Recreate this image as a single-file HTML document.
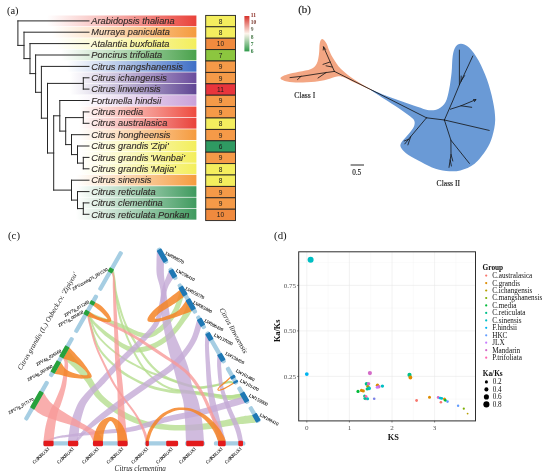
<!DOCTYPE html>
<html><head><meta charset="utf-8"><title>Figure</title>
<style>html,body{margin:0;padding:0;background:#fff;}svg{display:block;}</style></head>
<body>
<svg width="550" height="475" viewBox="0 0 550 475">
<rect width="550" height="475" fill="#ffffff"/>
<defs>
<linearGradient id="ga0" x1="0" x2="1" y1="0" y2="0"><stop offset="0" stop-color="#e9423a" stop-opacity="0"/><stop offset="0.3" stop-color="#e9423a" stop-opacity="0.27"/><stop offset="0.65" stop-color="#e9423a" stop-opacity="0.62"/><stop offset="1" stop-color="#e9423a" stop-opacity="1"/></linearGradient>
<linearGradient id="ga1" x1="0" x2="1" y1="0" y2="0"><stop offset="0" stop-color="#f59b3e" stop-opacity="0"/><stop offset="0.3" stop-color="#f59b3e" stop-opacity="0.27"/><stop offset="0.65" stop-color="#f59b3e" stop-opacity="0.62"/><stop offset="1" stop-color="#f59b3e" stop-opacity="1"/></linearGradient>
<linearGradient id="ga2" x1="0" x2="1" y1="0" y2="0"><stop offset="0" stop-color="#f3ee5c" stop-opacity="0"/><stop offset="0.3" stop-color="#f3ee5c" stop-opacity="0.27"/><stop offset="0.65" stop-color="#f3ee5c" stop-opacity="0.62"/><stop offset="1" stop-color="#f3ee5c" stop-opacity="1"/></linearGradient>
<linearGradient id="ga3" x1="0" x2="1" y1="0" y2="0"><stop offset="0" stop-color="#4aa24c" stop-opacity="0"/><stop offset="0.3" stop-color="#4aa24c" stop-opacity="0.27"/><stop offset="0.65" stop-color="#4aa24c" stop-opacity="0.62"/><stop offset="1" stop-color="#4aa24c" stop-opacity="1"/></linearGradient>
<linearGradient id="ga4" x1="0" x2="1" y1="0" y2="0"><stop offset="0" stop-color="#3f6fc6" stop-opacity="0"/><stop offset="0.3" stop-color="#3f6fc6" stop-opacity="0.27"/><stop offset="0.65" stop-color="#3f6fc6" stop-opacity="0.62"/><stop offset="1" stop-color="#3f6fc6" stop-opacity="1"/></linearGradient>
<linearGradient id="ga5" x1="0" x2="1" y1="0" y2="0"><stop offset="0" stop-color="#6a4c9c" stop-opacity="0"/><stop offset="0.3" stop-color="#6a4c9c" stop-opacity="0.27"/><stop offset="0.65" stop-color="#6a4c9c" stop-opacity="0.62"/><stop offset="1" stop-color="#6a4c9c" stop-opacity="1"/></linearGradient>
<linearGradient id="ga6" x1="0" x2="1" y1="0" y2="0"><stop offset="0" stop-color="#5f4593" stop-opacity="0"/><stop offset="0.3" stop-color="#5f4593" stop-opacity="0.27"/><stop offset="0.65" stop-color="#5f4593" stop-opacity="0.62"/><stop offset="1" stop-color="#5f4593" stop-opacity="1"/></linearGradient>
<linearGradient id="ga7" x1="0" x2="1" y1="0" y2="0"><stop offset="0" stop-color="#c9a2da" stop-opacity="0"/><stop offset="0.3" stop-color="#c9a2da" stop-opacity="0.27"/><stop offset="0.65" stop-color="#c9a2da" stop-opacity="0.62"/><stop offset="1" stop-color="#c9a2da" stop-opacity="1"/></linearGradient>
<linearGradient id="ga8" x1="0" x2="1" y1="0" y2="0"><stop offset="0" stop-color="#ee4b3f" stop-opacity="0"/><stop offset="0.3" stop-color="#ee4b3f" stop-opacity="0.27"/><stop offset="0.65" stop-color="#ee4b3f" stop-opacity="0.62"/><stop offset="1" stop-color="#ee4b3f" stop-opacity="1"/></linearGradient>
<linearGradient id="ga9" x1="0" x2="1" y1="0" y2="0"><stop offset="0" stop-color="#e9423a" stop-opacity="0"/><stop offset="0.3" stop-color="#e9423a" stop-opacity="0.27"/><stop offset="0.65" stop-color="#e9423a" stop-opacity="0.62"/><stop offset="1" stop-color="#e9423a" stop-opacity="1"/></linearGradient>
<linearGradient id="ga10" x1="0" x2="1" y1="0" y2="0"><stop offset="0" stop-color="#f59b3e" stop-opacity="0"/><stop offset="0.3" stop-color="#f59b3e" stop-opacity="0.27"/><stop offset="0.65" stop-color="#f59b3e" stop-opacity="0.62"/><stop offset="1" stop-color="#f59b3e" stop-opacity="1"/></linearGradient>
<linearGradient id="ga11" x1="0" x2="1" y1="0" y2="0"><stop offset="0" stop-color="#f3ee5c" stop-opacity="0"/><stop offset="0.3" stop-color="#f3ee5c" stop-opacity="0.27"/><stop offset="0.65" stop-color="#f3ee5c" stop-opacity="0.62"/><stop offset="1" stop-color="#f3ee5c" stop-opacity="1"/></linearGradient>
<linearGradient id="ga12" x1="0" x2="1" y1="0" y2="0"><stop offset="0" stop-color="#f3ee5c" stop-opacity="0"/><stop offset="0.3" stop-color="#f3ee5c" stop-opacity="0.27"/><stop offset="0.65" stop-color="#f3ee5c" stop-opacity="0.62"/><stop offset="1" stop-color="#f3ee5c" stop-opacity="1"/></linearGradient>
<linearGradient id="ga13" x1="0" x2="1" y1="0" y2="0"><stop offset="0" stop-color="#f3ee5c" stop-opacity="0"/><stop offset="0.3" stop-color="#f3ee5c" stop-opacity="0.27"/><stop offset="0.65" stop-color="#f3ee5c" stop-opacity="0.62"/><stop offset="1" stop-color="#f3ee5c" stop-opacity="1"/></linearGradient>
<linearGradient id="ga14" x1="0" x2="1" y1="0" y2="0"><stop offset="0" stop-color="#f59b3e" stop-opacity="0"/><stop offset="0.3" stop-color="#f59b3e" stop-opacity="0.27"/><stop offset="0.65" stop-color="#f59b3e" stop-opacity="0.62"/><stop offset="1" stop-color="#f59b3e" stop-opacity="1"/></linearGradient>
<linearGradient id="ga15" x1="0" x2="1" y1="0" y2="0"><stop offset="0" stop-color="#3f9a5e" stop-opacity="0"/><stop offset="0.3" stop-color="#3f9a5e" stop-opacity="0.27"/><stop offset="0.65" stop-color="#3f9a5e" stop-opacity="0.62"/><stop offset="1" stop-color="#3f9a5e" stop-opacity="1"/></linearGradient>
<linearGradient id="ga16" x1="0" x2="1" y1="0" y2="0"><stop offset="0" stop-color="#3f9a5e" stop-opacity="0"/><stop offset="0.3" stop-color="#3f9a5e" stop-opacity="0.27"/><stop offset="0.65" stop-color="#3f9a5e" stop-opacity="0.62"/><stop offset="1" stop-color="#3f9a5e" stop-opacity="1"/></linearGradient>
<linearGradient id="ga17" x1="0" x2="1" y1="0" y2="0"><stop offset="0" stop-color="#3f9a5e" stop-opacity="0"/><stop offset="0.3" stop-color="#3f9a5e" stop-opacity="0.27"/><stop offset="0.65" stop-color="#3f9a5e" stop-opacity="0.62"/><stop offset="1" stop-color="#3f9a5e" stop-opacity="1"/></linearGradient>
<linearGradient id="leg" x1="0" x2="0" y1="0" y2="1"><stop offset="0" stop-color="#d7302a"/><stop offset="0.5" stop-color="#fdf5ec"/><stop offset="1" stop-color="#2f9a4a"/></linearGradient>
</defs>
<rect x="47" y="15.50" width="149.4" height="10.7" fill="url(#ga0)"/>
<rect x="52" y="26.88" width="144.4" height="10.7" fill="url(#ga1)"/>
<rect x="56" y="38.26" width="140.4" height="10.7" fill="url(#ga2)"/>
<rect x="61" y="49.64" width="135.4" height="10.7" fill="url(#ga3)"/>
<rect x="67" y="61.02" width="129.4" height="10.7" fill="url(#ga4)"/>
<rect x="70" y="72.40" width="126.4" height="10.7" fill="url(#ga5)"/>
<rect x="70" y="83.78" width="126.4" height="10.7" fill="url(#ga6)"/>
<rect x="77" y="95.16" width="119.4" height="10.7" fill="url(#ga7)"/>
<rect x="79" y="106.54" width="117.4" height="10.7" fill="url(#ga8)"/>
<rect x="79" y="117.92" width="117.4" height="10.7" fill="url(#ga9)"/>
<rect x="78" y="129.30" width="118.4" height="10.7" fill="url(#ga10)"/>
<rect x="80" y="140.68" width="116.4" height="10.7" fill="url(#ga11)"/>
<rect x="80" y="152.06" width="116.4" height="10.7" fill="url(#ga12)"/>
<rect x="80" y="163.44" width="116.4" height="10.7" fill="url(#ga13)"/>
<rect x="76" y="174.82" width="120.4" height="10.7" fill="url(#ga14)"/>
<rect x="76" y="186.20" width="120.4" height="10.7" fill="url(#ga15)"/>
<rect x="76" y="197.58" width="120.4" height="10.7" fill="url(#ga16)"/>
<rect x="76" y="208.96" width="120.4" height="10.7" fill="url(#ga17)"/>
<path d="M83.3 77.8V89.1M83.3 77.8H89.0M83.3 89.1H89.0M83.3 111.9V123.3M83.3 111.9H89.0M83.3 123.3H89.0M83.3 157.4V168.8M83.3 157.4H89.0M83.3 168.8H89.0M83.3 202.9V214.3M83.3 202.9H89.0M83.3 214.3H89.0M77.5 146.0V163.1M77.5 146.0H89.0M77.5 163.1H83.3M71.5 134.7V154.6M71.5 134.7H89.0M71.5 154.6H77.5M65.7 117.6V144.6M65.7 117.6H83.3M65.7 144.6H71.5M59.8 100.5V131.1M59.8 100.5H89.0M59.8 131.1H65.7M77.5 191.6V208.6M77.5 191.6H89.0M77.5 208.6H83.3M71.5 180.2V200.1M71.5 180.2H89.0M71.5 200.1H77.5M53.7 115.8V190.1M53.7 115.8H59.8M53.7 190.1H71.5M47.5 83.4V153.0M47.5 83.4H83.3M47.5 153.0H53.7M41.4 66.4V118.2M41.4 66.4H89.0M41.4 118.2H47.5M35.6 55.0V92.3M35.6 55.0H89.0M35.6 92.3H41.4M30.0 43.6V73.6M30.0 43.6H89.0M30.0 73.6H35.6M24.0 32.2V58.6M24.0 32.2H89.0M24.0 58.6H30.0M17.9 20.9V45.4M17.9 20.9H89.0M17.9 45.4H24.0" fill="none" stroke="#262626" stroke-width="1.0" stroke-linecap="square"/>
<g font-family="'Liberation Sans',Arial,sans-serif" font-style="italic" font-size="9.25" fill="#2e2826" stroke="#2e2826" stroke-width="0.12">
<text x="91.3" y="24.05">Arabidopsis thaliana</text>
<text x="91.3" y="35.43">Murraya paniculata</text>
<text x="91.3" y="46.81">Atalantia buxfoliata</text>
<text x="91.3" y="58.19">Poncirus trifoliata</text>
<text x="91.3" y="69.57">Citrus mangshanensis</text>
<text x="91.3" y="80.95">Citrus ichangensis</text>
<text x="91.3" y="92.33">Citrus linwuensis</text>
<text x="91.3" y="103.71">Fortunella hindsii</text>
<text x="91.3" y="115.09">Citrus media</text>
<text x="91.3" y="126.47">Citrus australasica</text>
<text x="91.3" y="137.85">Citrus hongheensis</text>
<text x="91.3" y="149.23">Citrus grandis 'Zipi'</text>
<text x="91.3" y="160.61">Citrus grandis 'Wanbai'</text>
<text x="91.3" y="171.99">Citrus grandis 'Majia'</text>
<text x="91.3" y="183.37">Citrus sinensis</text>
<text x="91.3" y="194.75">Citrus reticulata</text>
<text x="91.3" y="206.13">Citrus clementina</text>
<text x="91.3" y="217.51">Citrus reticulata Ponkan</text>
</g>
<rect x="205.7" y="15.40" width="29.8" height="11.40" fill="#f4ee5e" stroke="#222" stroke-width="0.9"/>
<rect x="205.7" y="26.80" width="29.8" height="11.40" fill="#f4ee5e" stroke="#222" stroke-width="0.9"/>
<rect x="205.7" y="38.20" width="29.8" height="11.40" fill="#f08a3e" stroke="#222" stroke-width="0.9"/>
<rect x="205.7" y="49.60" width="29.8" height="11.40" fill="#8cc63f" stroke="#222" stroke-width="0.9"/>
<rect x="205.7" y="61.00" width="29.8" height="11.40" fill="#f59a48" stroke="#222" stroke-width="0.9"/>
<rect x="205.7" y="72.40" width="29.8" height="11.40" fill="#f59a48" stroke="#222" stroke-width="0.9"/>
<rect x="205.7" y="83.80" width="29.8" height="11.40" fill="#e8353c" stroke="#222" stroke-width="0.9"/>
<rect x="205.7" y="95.20" width="29.8" height="11.40" fill="#f59a48" stroke="#222" stroke-width="0.9"/>
<rect x="205.7" y="106.60" width="29.8" height="11.40" fill="#f59a48" stroke="#222" stroke-width="0.9"/>
<rect x="205.7" y="118.00" width="29.8" height="11.40" fill="#f4ee5e" stroke="#222" stroke-width="0.9"/>
<rect x="205.7" y="129.40" width="29.8" height="11.40" fill="#f59a48" stroke="#222" stroke-width="0.9"/>
<rect x="205.7" y="140.80" width="29.8" height="11.40" fill="#2f9a62" stroke="#222" stroke-width="0.9"/>
<rect x="205.7" y="152.20" width="29.8" height="11.40" fill="#f59a48" stroke="#222" stroke-width="0.9"/>
<rect x="205.7" y="163.60" width="29.8" height="11.40" fill="#f4ee5e" stroke="#222" stroke-width="0.9"/>
<rect x="205.7" y="175.00" width="29.8" height="11.40" fill="#f4ee5e" stroke="#222" stroke-width="0.9"/>
<rect x="205.7" y="186.40" width="29.8" height="11.40" fill="#f59a48" stroke="#222" stroke-width="0.9"/>
<rect x="205.7" y="197.80" width="29.8" height="11.40" fill="#f59a48" stroke="#222" stroke-width="0.9"/>
<rect x="205.7" y="209.20" width="29.8" height="11.40" fill="#f08a3e" stroke="#222" stroke-width="0.9"/>
<g font-family="'Liberation Sans',Arial,sans-serif" font-size="6.6" fill="#1a1a1a" text-anchor="middle">
<text x="220.5" y="23.50">8</text>
<text x="220.5" y="34.90">8</text>
<text x="220.5" y="46.30">10</text>
<text x="220.5" y="57.70">7</text>
<text x="220.5" y="69.10">9</text>
<text x="220.5" y="80.50">9</text>
<text x="220.5" y="91.90">11</text>
<text x="220.5" y="103.30">9</text>
<text x="220.5" y="114.70">9</text>
<text x="220.5" y="126.10">8</text>
<text x="220.5" y="137.50">9</text>
<text x="220.5" y="148.90">6</text>
<text x="220.5" y="160.30">9</text>
<text x="220.5" y="171.70">8</text>
<text x="220.5" y="183.10">8</text>
<text x="220.5" y="194.50">9</text>
<text x="220.5" y="205.90">9</text>
<text x="220.5" y="217.30">10</text>
</g>
<rect x="244.4" y="16" width="5" height="35.4" fill="url(#leg)"/>
<g font-family="'Liberation Serif',serif" font-size="5.5" fill="#555" font-weight="bold">
<text x="250.8" y="16.9" fill="#8a2a22">11</text>
<text x="250.8" y="23.9" fill="#7a3a30">10</text>
<text x="250.8" y="31.3" fill="#6a6a5a">9</text>
<text x="250.8" y="38.5" fill="#4a7a4a">8</text>
<text x="250.8" y="45.7" fill="#2f7a3a">7</text>
<text x="250.8" y="52.9" fill="#2a7a3a">6</text>
</g>
<text x="7" y="13.6" font-family="'Liberation Serif',serif" font-size="10.4" fill="#111">(a)</text>
<path d="M322.4 39.0C323.5 39.1 325.4 41.7 326.5 43.5C327.6 45.3 327.9 47.6 329.0 50.0C330.1 52.4 331.0 54.8 333.0 58.0C335.0 61.2 337.3 65.3 341.0 69.0C344.7 72.7 350.3 76.8 355.0 80.0C359.7 83.2 365.2 86.1 369.0 88.2C372.8 90.3 377.5 92.4 377.5 92.6C377.5 92.8 372.8 90.8 369.0 89.2C365.2 87.6 359.3 84.8 355.0 82.8C350.7 80.8 346.0 78.0 343.0 77.0C340.0 76.0 339.7 76.2 337.0 76.6C334.3 77.0 330.7 78.7 327.0 79.6C323.3 80.5 319.7 81.3 315.0 81.8C310.3 82.3 303.7 82.6 299.0 82.6C294.3 82.5 290.1 82.2 287.0 81.5C283.9 80.8 280.5 79.4 280.5 78.2C280.5 77.0 283.9 75.7 287.0 74.6C290.1 73.5 295.0 72.7 299.0 71.8C303.0 70.9 308.0 70.4 311.0 69.0C314.0 67.6 315.5 66.0 316.8 63.5C318.1 61.0 318.5 57.4 319.0 54.0C319.5 50.6 319.2 45.5 319.8 43.0C320.4 40.5 321.3 38.9 322.4 39.0Z" fill="#f3a683"/>
<path d="M370.0 89.3C370.0 88.7 379.1 93.0 384.2 95.0C389.3 97.0 395.2 99.0 400.7 101.0C406.2 103.0 412.6 105.3 417.3 106.8C422.0 108.3 425.4 109.9 429.0 110.2C432.6 110.5 435.8 110.2 438.6 108.8C441.4 107.4 443.8 105.4 445.6 102.1C447.4 98.8 448.2 94.0 449.2 89.1C450.2 84.2 451.0 78.1 451.6 72.6C452.2 67.1 452.0 60.3 452.7 56.0C453.4 51.7 454.2 48.8 455.6 46.8C457.0 44.8 458.7 43.6 461.0 43.7C463.3 43.9 466.4 44.9 469.3 47.7C472.2 50.5 475.8 55.4 478.7 60.7C481.6 66.0 484.6 72.9 487.0 79.6C489.4 86.3 491.5 94.2 492.9 100.9C494.3 107.6 495.3 113.9 495.2 119.8C495.1 125.7 493.8 131.5 492.3 136.5C490.8 141.5 489.3 145.0 486.4 149.6C483.4 154.2 478.9 160.3 474.6 163.8C470.3 167.3 465.1 169.2 460.4 170.4C455.7 171.6 450.9 171.4 446.2 170.9C441.5 170.4 436.7 169.2 432.0 167.4C427.3 165.6 422.1 162.7 417.8 160.3C413.5 157.9 408.8 155.4 406.0 153.2C403.2 151.0 401.6 149.1 400.8 147.3C400.1 145.5 400.2 144.5 401.5 142.3C402.8 140.1 406.4 136.9 408.4 134.3C410.4 131.8 412.7 129.2 413.7 127.0C414.7 124.8 415.0 122.8 414.4 121.0C413.8 119.2 412.7 118.5 410.0 116.3C407.3 114.1 402.7 110.9 398.4 108.0C394.1 105.1 388.7 101.9 384.0 98.8C379.3 95.7 370.0 89.9 370.0 89.3Z" fill="#6a9ad6"/>
<path d="M426.5 117.8L370.0 89.2L334.4 71.4M334.4 71.4L323.6 47.0M323.6 47.0L325.6 49.4M323.6 47.0L323.2 50.0M330.0 62.0L323.0 64.4M332.0 67.0L326.0 65.8M334.4 71.4L319.0 73.6L301.0 76.4L290.0 77.6M326.0 72.6L318.0 78.0M301.0 76.4L297.5 79.6M426.5 117.8L444.4 120.0M426.5 117.8L410.7 136.6L404.8 143.9M410.7 136.6L407.9 144.9M408.5 139.3L404.2 141.0M444.4 120.0L489.2 130.4M444.4 120.0L450.9 140.2L469.4 163.4M450.9 140.2L451.0 154.4L449.0 167.4M451.0 154.4L452.8 161.0M450.2 160.0L451.4 166.0M444.4 120.0L452.7 101.0L459.4 84.8L459.4 50.1M459.4 84.8L472.8 56.0M461.5 80.3L464.6 75.6M461.0 81.5L461.2 76.0M450.4 109.2L461.0 105.8L475.7 99.7M461.0 105.8L471.7 107.3M475.7 99.7L473.4 99.6M475.7 99.7L474.5 101.6" fill="none" stroke="#111" stroke-width="0.8" stroke-linecap="round" stroke-linejoin="round"/>
<path d="M350.6 165H364" stroke="#111" stroke-width="0.9" fill="none"/>
<g font-family="'Liberation Serif',serif" fill="#111" stroke="#111" stroke-width="0.12">
<text x="352.2" y="175.4" font-size="7.2">0.5</text>
<text x="294.3" y="97.6" font-size="7.6">Class I</text>
<text x="436.6" y="185.5" font-size="7.6">Class II</text>
<text x="298.2" y="13.4" font-size="10.8">(b)</text>
</g>
<g>
<path d="M112.1 272.7C112.3 273.9 113.0 277.2 113.4 280.1C113.7 283.0 113.5 285.6 114.1 290.1C114.7 294.6 115.8 302.1 116.8 307.2C117.8 312.3 118.8 316.6 120.0 320.9C121.3 325.1 122.9 329.0 124.4 332.7C125.8 336.3 126.8 338.8 128.6 342.8C130.4 346.8 132.5 351.9 135.1 356.5C137.7 361.1 140.8 366.5 144.2 370.6C147.6 374.8 151.2 378.2 155.4 381.3C159.6 384.5 164.8 387.7 169.6 389.5C174.4 391.3 179.5 391.4 184.3 392.2C189.2 392.9 194.0 393.4 198.8 394.1C203.7 394.8 208.5 395.5 213.4 396.2C218.3 396.9 223.5 398.0 228.2 398.1C232.9 398.2 239.4 397.0 241.7 396.8L239.9 393.8C238.0 394.0 232.6 395.2 228.2 395.1C223.9 395.0 218.6 394.0 213.8 393.4C208.9 392.8 204.0 392.1 199.2 391.5C194.3 390.9 189.5 390.5 184.7 389.8C179.9 389.1 175.1 389.2 170.4 387.5C165.7 385.8 160.7 382.7 156.6 379.7C152.5 376.7 149.1 373.4 145.8 369.4C142.5 365.3 139.4 360.1 136.9 355.5C134.3 350.9 132.2 345.9 130.4 342.0C128.6 338.1 127.6 335.5 126.2 331.9C124.8 328.3 123.2 324.5 122.0 320.3C120.7 316.1 119.6 311.9 118.6 306.8C117.6 301.7 116.5 294.4 115.9 289.9C115.3 285.4 115.5 283.0 115.0 279.9C114.6 276.7 113.4 272.4 113.1 270.9Z" fill="#b5dd8e" fill-opacity="0.8"/>
<path d="M112.8 271.5C113.0 272.9 113.3 276.2 113.7 280.1C114.2 284.1 114.0 288.7 115.5 295.2C117.0 301.8 120.1 312.6 122.6 319.3C125.0 326.1 127.3 330.3 130.0 335.5C132.8 340.7 136.0 345.9 139.0 350.6C142.0 355.3 144.7 359.8 148.1 363.8C151.5 367.7 155.7 371.7 159.3 374.5C162.8 377.2 165.4 378.3 169.5 380.1C173.7 381.9 179.3 383.7 184.2 385.1C189.1 386.5 194.0 388.1 198.9 388.4C203.9 388.7 208.9 387.6 213.8 386.6C218.7 385.7 224.9 383.3 228.3 382.9C231.7 382.5 233.3 383.8 234.3 384.0L233.1 382.0C232.3 381.9 231.4 380.5 228.1 380.9C224.8 381.3 218.2 383.7 213.4 384.6C208.6 385.4 203.8 386.5 199.1 386.2C194.3 385.9 189.6 384.3 184.8 382.9C180.1 381.5 174.5 379.6 170.5 377.9C166.5 376.2 164.2 375.2 160.7 372.5C157.3 369.9 153.2 366.1 149.9 362.2C146.6 358.4 144.0 354.0 141.0 349.4C138.0 344.8 134.7 339.6 132.0 334.5C129.2 329.4 126.9 325.3 124.4 318.7C122.0 312.0 119.0 301.2 117.5 294.8C116.0 288.3 116.1 284.1 115.5 279.9C114.9 275.7 114.1 271.3 113.8 269.6Z" fill="#b5dd8e" fill-opacity="0.8"/>
<path d="M87.8 315.2C88.4 317.7 89.2 324.4 91.0 330.3C92.9 336.2 95.1 344.3 99.1 350.6C103.1 356.9 110.1 363.3 115.2 367.9C120.2 372.5 123.6 374.8 129.4 378.1C135.1 381.4 142.8 385.3 149.5 387.8C156.3 390.2 164.0 391.7 169.8 392.7C175.6 393.7 179.5 393.2 184.4 393.6C189.2 394.0 194.0 394.6 198.8 395.2C203.6 395.9 208.4 396.7 213.3 397.5C218.2 398.3 223.2 399.7 228.1 399.9C233.1 400.2 240.4 399.0 242.9 398.8L239.9 393.8C238.0 394.1 232.6 395.7 228.3 395.7C223.9 395.6 218.7 394.3 213.9 393.7C209.0 393.0 204.1 392.3 199.2 391.8C194.3 391.2 189.5 390.7 184.6 390.4C179.8 390.1 175.9 390.6 170.2 389.7C164.5 388.9 157.1 387.5 150.5 385.2C143.8 382.9 136.2 379.1 130.6 375.9C125.0 372.7 121.8 370.5 116.8 366.1C111.9 361.7 104.9 355.5 100.9 349.4C96.9 343.3 95.0 335.7 93.0 329.7C90.9 323.7 89.5 316.2 88.8 313.5Z" fill="#b5dd8e" fill-opacity="0.8"/>
<path d="M88.3 314.4C89.8 318.1 92.0 329.5 97.2 336.6C102.4 343.7 111.7 351.2 119.4 356.8C127.1 362.4 137.2 367.2 143.5 370.4C149.9 373.6 153.3 374.4 157.6 376.1C162.0 377.9 165.2 379.3 169.7 380.8C174.1 382.4 179.4 384.3 184.2 385.7C189.1 387.0 194.0 388.7 199.0 388.9C203.9 389.1 208.9 388.0 213.8 387.1C218.7 386.1 224.9 383.8 228.3 383.3C231.8 382.8 233.3 383.9 234.3 384.0L233.1 382.0C232.3 382.0 231.3 381.0 228.1 381.5C224.8 382.0 218.3 384.2 213.4 385.1C208.6 386.0 203.8 387.1 199.0 386.9C194.3 386.7 189.6 385.1 184.8 383.7C180.0 382.4 174.7 380.5 170.3 379.0C165.9 377.4 162.7 376.0 158.4 374.3C154.1 372.5 150.7 371.8 144.5 368.6C138.2 365.4 128.2 360.7 120.6 355.2C113.0 349.7 104.0 342.5 98.8 335.4C93.6 328.3 90.9 316.4 89.3 312.6Z" fill="#b5dd8e" fill-opacity="0.8"/>
<path d="M88.6 313.9C90.4 314.8 94.4 317.0 99.5 319.2C104.6 321.4 112.6 324.3 119.3 327.3C125.9 330.2 133.8 335.1 139.4 336.7C145.0 338.2 148.2 338.5 152.9 336.7C157.6 334.9 163.6 330.0 167.8 325.7C172.0 321.5 175.7 316.1 178.3 311.2C180.9 306.3 182.7 299.0 183.6 296.5L180.0 290.4C179.0 293.5 176.3 303.5 173.7 308.8C171.1 314.1 168.0 318.3 164.2 322.3C160.4 326.2 155.0 330.6 151.1 332.3C147.2 334.0 145.7 333.8 140.6 332.3C135.5 330.9 127.4 326.3 120.7 323.7C114.0 321.2 105.7 318.7 100.5 316.8C95.3 314.8 91.5 312.8 89.7 312.0Z" fill="#b5dd8e" fill-opacity="0.8"/>
<path d="M87.3 316.1C88.6 317.7 91.4 322.2 95.0 326.0C98.6 329.7 103.1 334.4 108.8 338.6C114.6 342.9 122.4 349.5 129.4 351.4C136.4 353.3 143.8 352.3 150.8 350.0C157.9 347.6 165.8 342.6 171.7 337.5C177.6 332.4 182.9 324.0 186.3 319.6C189.6 315.1 191.0 312.4 191.9 310.9L187.3 303.0C186.4 305.2 184.9 311.4 181.7 316.4C178.6 321.5 173.7 328.7 168.3 333.5C162.8 338.3 155.4 342.9 149.2 345.0C142.9 347.2 137.0 348.2 130.6 346.6C124.3 345.0 116.8 339.1 111.2 335.4C105.5 331.6 100.8 327.6 97.0 324.0C93.2 320.4 90.0 315.6 88.6 313.9Z" fill="#b5dd8e" fill-opacity="0.8"/>
<path d="M63.3 358.2C65.0 359.7 69.7 363.6 73.4 367.3C77.1 371.1 81.3 375.7 85.4 380.9C89.5 386.2 92.3 393.4 97.8 399.1C103.3 404.8 111.5 410.8 118.4 415.0C125.3 419.3 132.2 422.2 139.1 424.6C146.0 427.0 152.8 428.2 159.6 429.2C166.4 430.2 173.2 430.4 180.0 430.5C186.7 430.7 193.5 430.5 200.3 430.0C207.0 429.5 213.8 428.5 220.5 427.5C227.2 426.5 234.5 424.9 240.6 424.1C246.6 423.2 254.0 422.9 256.6 422.6L252.3 415.1C250.1 415.4 244.9 415.9 239.4 416.9C234.0 417.9 226.1 419.9 219.5 421.1C212.9 422.3 206.3 423.4 199.7 424.0C193.2 424.7 186.6 425.1 180.0 425.1C173.5 425.0 166.9 424.7 160.4 423.8C153.9 422.8 147.4 421.7 140.9 419.4C134.4 417.1 128.0 414.0 121.6 410.0C115.1 405.9 107.3 400.4 102.2 394.9C97.0 389.4 94.5 382.4 90.6 377.1C86.7 371.7 82.4 367.2 78.6 362.7C74.8 358.1 69.8 352.1 68.0 350.0Z" fill="#b5dd8e" fill-opacity="0.8"/>
<path d="M156.9 250.6C156.9 252.5 156.5 257.9 156.5 262.0C156.5 266.1 156.1 270.3 156.8 275.0C157.5 279.7 159.8 284.2 160.5 290.0C161.2 295.8 160.4 303.3 161.0 310.0C161.6 316.7 162.5 322.3 164.0 330.0C165.5 337.7 168.3 349.3 170.0 356.0C171.7 362.7 172.7 365.2 174.0 370.0C175.3 374.8 176.5 380.0 178.0 385.0C179.5 390.0 181.8 394.2 183.0 400.0C184.2 405.8 184.5 413.2 185.0 420.0C185.5 426.8 185.8 437.5 186.0 440.9L204.0 440.9C203.7 437.5 203.0 426.8 202.0 420.0C201.0 413.2 199.7 405.8 198.0 400.0C196.3 394.2 193.5 390.0 192.0 385.0C190.5 380.0 190.3 374.8 189.0 370.0C187.7 365.2 186.7 362.7 184.0 356.0C181.3 349.3 175.5 337.7 173.0 330.0C170.5 322.3 170.2 316.7 169.0 310.0C167.8 303.3 166.8 295.8 166.0 290.0C165.2 284.2 164.3 279.5 164.0 275.0C163.7 270.5 164.0 264.8 164.0 262.8Z" fill="#c4aad6" fill-opacity="0.8"/>
<path d="M168.7 270.9C167.7 273.7 164.1 282.0 162.6 287.2C161.1 292.5 161.0 296.5 159.6 302.4C158.1 308.3 157.4 316.4 153.8 322.8C150.2 329.2 144.0 334.4 138.0 340.6C132.0 346.8 124.6 353.4 118.0 360.1C111.4 366.8 103.1 376.0 98.3 380.9C93.5 385.8 92.0 386.6 89.2 389.4C86.4 392.3 83.8 395.1 81.6 398.0C79.4 401.0 78.1 402.9 76.3 407.1C74.5 411.2 72.1 417.4 70.8 423.0C69.4 428.7 68.5 438.0 68.0 440.9L78.2 440.9C78.5 438.3 78.9 430.1 79.8 425.0C80.8 419.8 82.5 413.8 83.7 409.9C85.0 406.1 85.7 404.7 87.4 402.0C89.1 399.3 91.2 396.6 93.8 393.8C96.3 390.9 98.0 390.1 102.7 385.1C107.4 380.1 115.4 370.7 122.0 363.9C128.5 357.1 136.0 350.8 142.0 344.4C148.0 337.9 154.4 332.0 158.2 325.2C161.9 318.4 162.9 309.7 164.4 303.6C166.0 297.5 165.9 292.9 167.4 288.8C168.8 284.6 172.2 280.3 173.1 278.6Z" fill="#c4aad6" fill-opacity="0.8"/>
<path d="M197.1 319.9C196.2 322.9 193.9 332.6 191.5 337.8C189.1 343.0 186.7 346.4 182.8 351.2C178.8 355.9 173.8 361.5 168.1 366.2C162.3 370.9 154.9 375.0 148.3 379.5C141.7 384.1 134.9 388.8 128.3 393.6C121.6 398.3 114.2 403.5 108.2 408.1C102.2 412.7 96.7 417.3 92.4 421.1C88.2 424.9 85.5 427.5 82.7 430.8C79.9 434.1 76.7 439.3 75.5 440.9L78.4 440.9C79.5 439.7 82.4 435.9 85.3 433.2C88.1 430.5 91.2 428.3 95.6 424.9C100.0 421.5 105.8 417.3 111.8 412.9C117.8 408.5 125.1 403.2 131.7 398.4C138.4 393.7 145.0 389.1 151.7 384.5C158.4 379.9 166.0 375.8 171.9 370.8C177.8 365.9 183.2 359.9 187.2 354.8C191.3 349.7 194.2 344.8 196.5 340.2C198.8 335.5 200.4 329.1 201.2 326.9Z" fill="#c4aad6" fill-opacity="0.8"/>
<path d="M205.4 334.3C205.4 336.4 204.9 341.9 205.0 347.0C205.1 352.2 205.4 358.8 205.8 365.1C206.1 371.5 206.3 378.6 207.0 385.3C207.7 392.1 208.7 398.9 209.8 405.6C211.0 412.4 212.5 420.0 213.9 425.9C215.2 431.8 217.3 438.4 218.0 440.9L225.7 440.9C224.9 438.1 222.7 430.2 221.1 424.1C219.6 418.0 217.7 410.9 216.2 404.4C214.7 397.8 213.0 391.3 212.0 384.7C211.0 378.1 210.7 371.1 210.2 364.9C209.7 358.6 209.1 350.9 209.0 347.0C208.9 343.0 209.4 342.2 209.5 341.2Z" fill="#c4aad6" fill-opacity="0.8"/>
<path d="M217.4 355.0C217.4 357.2 216.9 362.6 217.3 368.2C217.7 373.7 218.2 381.5 219.8 388.5C221.4 395.4 224.4 403.1 226.9 409.8C229.4 416.6 233.1 423.7 235.0 428.9C236.9 434.0 237.7 438.9 238.3 440.9L243.0 440.9C242.4 438.6 241.6 432.6 239.6 427.1C237.7 421.7 233.8 414.8 231.1 408.2C228.4 401.6 225.3 394.3 223.6 387.5C222.0 380.8 221.7 372.1 221.3 367.8C220.9 363.6 221.5 362.9 221.5 362.0Z" fill="#c4aad6" fill-opacity="0.8"/>
<path d="M47.0 440.9C48.9 440.5 54.4 439.0 58.2 438.3C62.1 437.6 63.2 437.6 70.2 436.8C77.1 436.1 90.1 434.8 100.2 433.9C110.2 433.1 121.9 433.0 130.4 431.7C138.8 430.5 144.0 428.2 150.7 426.4C157.4 424.7 162.3 423.0 170.6 421.2C179.0 419.3 191.5 417.5 200.7 415.4C209.9 413.3 218.5 410.7 225.9 408.7C233.3 406.6 242.0 403.9 245.3 403.0L241.7 396.8C238.8 397.8 231.1 400.2 224.1 402.3C217.0 404.5 208.4 407.3 199.3 409.6C190.2 411.8 177.7 413.8 169.4 415.8C161.1 417.8 156.0 419.7 149.3 421.6C142.7 423.5 137.9 425.8 129.6 427.3C121.4 428.8 109.8 429.3 99.8 430.5C89.9 431.6 76.9 433.4 69.8 434.4C62.8 435.3 62.1 435.2 57.8 436.3C53.5 437.4 46.3 440.2 44.0 440.9Z" fill="#c4aad6" fill-opacity="0.8"/>
<path d="M43.6 392.8C44.8 394.5 47.6 399.5 51.0 402.8C54.4 406.1 59.3 409.1 64.2 412.3C69.1 415.6 75.4 419.2 80.6 422.3C85.8 425.4 92.0 428.7 95.4 431.0C98.8 433.3 99.7 434.5 101.0 436.2C102.3 437.9 102.7 440.2 103.0 440.9L93.0 440.9C92.2 439.6 90.9 435.2 88.0 432.8C85.1 430.4 80.5 428.5 75.7 426.6C70.9 424.7 64.8 423.2 59.3 421.4C53.8 419.6 47.0 417.6 42.8 415.6C38.6 413.6 35.5 410.6 34.0 409.6Z" fill="#f79a98" fill-opacity="0.8"/>
<path d="M63.1 358.5C63.4 359.3 64.5 360.8 64.6 363.1C64.6 365.5 64.1 369.4 63.7 372.8C63.2 376.2 62.5 380.3 61.7 383.5C61.0 386.8 60.1 389.1 58.9 392.1C57.7 395.2 56.2 398.6 54.7 401.8C53.3 404.9 51.6 406.8 50.1 410.8C48.6 414.9 46.7 421.1 45.6 426.2C44.5 431.2 43.9 438.5 43.5 440.9L53.6 440.9C53.8 438.8 54.3 432.5 55.0 427.8C55.6 423.2 56.5 417.1 57.5 413.2C58.5 409.2 59.8 407.5 60.9 404.2C62.0 401.0 63.2 397.1 64.1 393.9C65.0 390.6 65.7 387.9 66.3 384.5C66.8 381.0 67.2 376.8 67.5 373.2C67.8 369.6 68.4 365.9 68.0 362.9C67.7 359.8 65.7 356.1 65.3 354.8Z" fill="#f79a98" fill-opacity="0.8"/>
<path d="M111.7 273.4C111.9 274.1 112.6 274.3 112.8 277.1C113.0 279.9 112.7 281.2 112.9 290.1C113.1 298.9 113.7 318.4 114.1 330.1C114.5 341.8 114.6 351.0 115.1 360.2C115.6 369.4 116.8 375.2 117.3 385.2C117.7 395.2 117.8 410.9 117.9 420.2C117.9 429.5 117.6 437.5 117.6 440.9L127.6 440.9C127.2 437.4 126.2 429.2 125.3 419.8C124.5 410.5 123.7 394.8 122.7 384.8C121.8 374.8 120.7 369.0 119.9 359.8C119.1 350.7 118.6 341.6 117.9 329.9C117.2 318.3 116.1 298.8 115.5 289.9C114.9 281.1 114.8 280.0 114.4 276.9C113.9 273.8 113.1 272.4 112.8 271.5Z" fill="#f79a98" fill-opacity="0.8"/>
<path d="M88.3 314.4C90.2 315.4 94.3 317.9 99.5 320.5C104.7 323.2 113.6 327.2 119.4 330.2C125.2 333.1 129.3 335.3 134.3 338.3C139.2 341.2 144.5 344.8 149.2 347.9C153.9 350.9 158.0 353.8 162.4 356.8C166.8 359.7 171.6 362.6 175.6 365.6C179.6 368.5 183.2 371.0 186.5 374.3C189.8 377.6 192.3 380.7 195.2 385.1C198.1 389.4 201.3 395.3 203.9 400.4C206.4 405.6 208.4 411.1 210.5 415.9C212.6 420.7 215.1 425.0 216.6 429.2C218.1 433.3 219.0 439.0 219.5 440.9L224.5 440.9C223.7 438.8 221.8 432.3 220.0 427.8C218.1 423.4 215.7 419.3 213.5 414.5C211.3 409.7 209.4 404.2 206.7 399.0C204.1 393.8 200.8 387.8 197.8 383.3C194.8 378.9 192.1 375.5 188.7 372.1C185.3 368.7 181.5 366.0 177.4 363.0C173.3 360.1 168.6 357.2 164.2 354.2C159.7 351.3 155.6 348.4 150.8 345.3C146.1 342.3 140.8 338.7 135.7 335.7C130.7 332.8 126.5 330.7 120.6 327.8C114.7 325.0 105.7 321.0 100.5 318.5C95.3 315.9 91.2 313.6 89.3 312.6Z" fill="#f79a98" fill-opacity="0.8"/>
<path d="M87.3 316.1C87.6 317.5 87.7 319.2 89.0 324.3C90.3 329.3 92.4 339.0 95.1 346.3C97.7 353.7 102.1 362.1 105.1 368.4C108.1 374.8 110.0 379.2 113.1 384.5C116.3 389.9 120.5 395.4 124.2 400.6C127.8 405.8 132.0 410.6 135.1 415.6C138.1 420.6 140.6 426.3 142.3 430.5C144.1 434.7 145.1 439.2 145.6 440.9L148.9 440.9C148.2 439.0 146.7 433.9 144.7 429.5C142.7 425.1 140.1 419.4 136.9 414.4C133.8 409.4 129.5 404.6 125.8 399.4C122.1 394.3 118.0 388.8 114.9 383.5C111.7 378.2 109.9 373.9 106.9 367.6C103.9 361.3 99.6 353.0 96.9 345.7C94.3 338.4 92.4 329.0 91.0 323.7C89.5 318.5 88.8 315.9 88.3 314.4Z" fill="#f79a98" fill-opacity="0.8"/>
<path d="M69.4 347.5C71.3 349.5 77.4 355.8 80.6 359.6C83.8 363.4 86.7 367.4 88.5 370.3C90.3 373.2 92.4 375.5 91.6 376.9C90.8 378.3 87.1 378.5 83.9 378.6C80.7 378.8 76.2 378.4 72.4 377.8C68.6 377.2 64.0 375.7 61.0 375.0C58.0 374.3 55.5 374.0 54.4 373.8L60.9 362.5C61.9 363.7 64.0 368.0 67.0 370.0C70.0 372.0 75.6 373.7 79.0 374.5C82.4 375.3 86.7 375.7 87.4 374.8C88.2 373.9 85.5 371.0 83.5 369.0C81.5 367.0 79.1 364.8 75.7 363.0C72.3 361.2 65.2 359.2 63.1 358.5Z" fill="#f58426" fill-opacity="0.85"/>
<path d="M95.2 302.3C96.3 303.0 99.8 304.4 102.0 306.4C104.2 308.4 107.1 311.6 108.6 314.0C110.1 316.4 111.8 319.7 111.2 321.0C110.6 322.3 107.5 322.3 105.0 322.0C102.5 321.7 99.5 320.4 96.5 319.4C93.5 318.4 88.8 316.7 87.3 316.2L89.8 311.8C90.6 312.5 93.0 314.5 95.0 315.5C97.0 316.5 99.9 317.4 102.0 318.0C104.1 318.6 107.1 319.6 107.5 319.2C107.9 318.8 105.8 316.9 104.5 315.5C103.2 314.1 101.4 312.1 99.5 310.5C97.6 308.9 94.3 306.6 93.2 305.8Z" fill="#f58426" fill-opacity="0.85"/>
<path d="M179.8 290.0C177.7 291.6 171.5 296.4 167.5 299.5C163.5 302.6 158.8 305.5 155.5 308.5C152.2 311.5 149.1 315.3 148.0 317.5C146.9 319.7 147.3 321.1 149.0 321.8C150.7 322.5 154.2 322.4 158.0 321.8C161.8 321.2 167.5 319.7 172.0 318.3C176.5 316.9 181.7 314.9 185.0 313.7C188.3 312.5 190.8 311.4 191.9 310.9L186.0 300.8C184.7 302.5 181.3 308.2 178.0 310.8C174.7 313.4 169.5 315.0 166.0 316.3C162.5 317.6 158.8 318.6 157.0 318.8C155.2 319.0 154.3 318.7 155.0 317.6C155.7 316.5 158.2 314.0 161.0 312.0C163.8 310.0 167.7 308.0 171.5 305.5C175.3 303.0 181.7 298.3 183.8 296.9Z" fill="#f58426" fill-opacity="0.85"/>
<path d="M230.4 377.4C229.7 378.1 227.8 379.9 226.0 381.5C224.2 383.1 220.8 385.6 219.5 387.0C218.2 388.4 217.6 389.4 218.0 389.8C218.4 390.2 220.2 390.2 222.0 389.6C223.8 389.0 227.1 387.1 229.0 386.0C230.9 384.9 232.9 383.5 233.7 383.0" fill="none" stroke="#f58426" stroke-width="1.1" stroke-opacity="0.95"/>
<path d="M93.0 440.9C93.4 439.3 94.2 434.2 95.5 431.0C96.8 427.8 98.6 423.8 101.0 421.5C103.4 419.2 107.0 417.1 110.0 417.0C113.0 416.9 116.5 418.8 119.0 421.0C121.5 423.2 123.6 427.2 125.0 430.5C126.4 433.8 127.2 439.2 127.6 440.9L117.6 440.9C117.5 439.5 117.4 434.7 116.8 432.0C116.2 429.3 115.0 426.3 114.0 424.5C113.0 422.7 111.7 421.0 110.5 421.0C109.3 421.0 108.1 422.7 107.0 424.5C105.9 426.3 104.7 429.3 104.0 432.0C103.3 434.7 103.2 439.5 103.0 440.9Z" fill="#f58426" fill-opacity="0.85"/>
<path d="M145.6 440.9C146.3 438.8 147.6 432.2 150.0 428.0C152.4 423.8 156.3 418.7 160.0 415.5C163.7 412.3 168.5 410.2 172.0 408.8C175.5 407.4 177.7 407.4 181.0 407.4C184.3 407.4 187.8 407.4 192.0 408.8C196.2 410.2 201.8 412.6 206.0 415.5C210.2 418.4 214.1 422.7 217.0 426.0C219.9 429.3 222.1 433.0 223.5 435.5C224.9 438.0 225.3 440.0 225.7 440.9L218.0 440.9C217.2 439.1 215.2 433.6 213.0 430.0C210.8 426.4 207.8 422.5 204.5 419.5C201.2 416.5 196.6 413.6 193.0 412.0C189.4 410.4 186.3 410.1 183.0 410.0C179.7 409.9 176.5 410.2 173.0 411.5C169.5 412.8 165.3 415.0 162.0 418.0C158.7 421.0 155.2 425.7 153.0 429.5C150.8 433.3 149.6 439.0 148.9 440.9Z" fill="#f58426" fill-opacity="0.85"/>
</g>
<rect transform="translate(121.60 251.60) rotate(119.71)" x="0.0" y="-2.15" width="44.6" height="4.300000000000001" rx="1.5" fill="#a6cee3"/>
<rect transform="translate(121.60 251.60) rotate(119.71)" x="50.0" y="-2.15" width="43.2" height="4.300000000000001" rx="1.5" fill="#a6cee3"/>
<rect transform="translate(121.60 251.60) rotate(119.71)" x="98.9" y="-2.15" width="45.1" height="4.300000000000001" rx="1.5" fill="#a6cee3"/>
<rect transform="translate(121.60 251.60) rotate(119.71)" x="149.3" y="-2.15" width="44.7" height="4.300000000000001" rx="1.5" fill="#a6cee3"/>
<rect transform="translate(121.60 251.60) rotate(119.71)" x="19.3" y="-2.45" width="4.6" height="4.9" rx="0.6" fill="#27a13c"/>
<rect transform="translate(121.60 251.60) rotate(119.71)" x="57.1" y="-2.45" width="4.0" height="4.9" rx="0.6" fill="#27a13c"/>
<rect transform="translate(121.60 251.60) rotate(119.71)" x="68.1" y="-2.45" width="5.0" height="4.9" rx="0.6" fill="#27a13c"/>
<rect transform="translate(121.60 251.60) rotate(119.71)" x="109.1" y="-2.45" width="12.7" height="4.9" rx="0.6" fill="#27a13c"/>
<rect transform="translate(121.60 251.60) rotate(119.71)" x="126.4" y="-2.45" width="13.0" height="4.9" rx="0.6" fill="#27a13c"/>
<rect transform="translate(121.60 251.60) rotate(119.71)" x="161.3" y="-2.45" width="19.3" height="4.9" rx="0.6" fill="#27a13c"/>
<rect transform="translate(158.10 248.20) rotate(59.90)" x="0.0" y="-2.20" width="17.6" height="4.4" rx="1.5" fill="#a6cee3"/>
<rect transform="translate(158.10 248.20) rotate(59.90)" x="23.1" y="-2.20" width="13.1" height="4.4" rx="1.5" fill="#a6cee3"/>
<rect transform="translate(158.10 248.20) rotate(59.90)" x="41.3" y="-2.20" width="33.9" height="4.4" rx="1.5" fill="#a6cee3"/>
<rect transform="translate(158.10 248.20) rotate(59.90)" x="78.3" y="-2.20" width="14.7" height="4.4" rx="1.5" fill="#a6cee3"/>
<rect transform="translate(158.10 248.20) rotate(59.90)" x="96.7" y="-2.20" width="35.9" height="4.4" rx="1.5" fill="#a6cee3"/>
<rect transform="translate(158.10 248.20) rotate(59.90)" x="137.6" y="-2.20" width="19.4" height="4.4" rx="1.5" fill="#a6cee3"/>
<rect transform="translate(158.10 248.20) rotate(59.90)" x="160.3" y="-2.20" width="19.1" height="4.4" rx="1.5" fill="#a6cee3"/>
<rect transform="translate(158.10 248.20) rotate(59.90)" x="183.2" y="-2.20" width="18.0" height="4.4" rx="1.5" fill="#a6cee3"/>
<rect transform="translate(158.10 248.20) rotate(59.90)" x="1.5" y="-2.60" width="14.1" height="5.2" rx="0.7" fill="#1f78b4"/>
<rect transform="translate(158.10 248.20) rotate(59.90)" x="25.0" y="-2.60" width="8.8" height="5.2" rx="0.7" fill="#1f78b4"/>
<rect transform="translate(158.10 248.20) rotate(59.90)" x="44.5" y="-2.60" width="10.1" height="5.2" rx="0.7" fill="#1f78b4"/>
<rect transform="translate(158.10 248.20) rotate(59.90)" x="59.0" y="-2.60" width="12.2" height="5.2" rx="0.7" fill="#1f78b4"/>
<rect transform="translate(158.10 248.20) rotate(59.90)" x="81.6" y="-2.60" width="8.1" height="5.2" rx="0.7" fill="#1f78b4"/>
<rect transform="translate(158.10 248.20) rotate(59.90)" x="98.2" y="-2.60" width="8.0" height="5.2" rx="0.7" fill="#1f78b4"/>
<rect transform="translate(158.10 248.20) rotate(59.90)" x="122.1" y="-2.60" width="8.1" height="5.2" rx="0.7" fill="#1f78b4"/>
<rect transform="translate(158.10 248.20) rotate(59.90)" x="147.4" y="-2.60" width="3.2" height="5.2" rx="0.7" fill="#1f78b4"/>
<rect transform="translate(158.10 248.20) rotate(59.90)" x="153.4" y="-2.60" width="2.3" height="5.2" rx="0.7" fill="#1f78b4"/>
<rect transform="translate(158.10 248.20) rotate(59.90)" x="167.0" y="-2.60" width="10.6" height="5.2" rx="0.7" fill="#1f78b4"/>
<rect transform="translate(158.10 248.20) rotate(59.90)" x="191.6" y="-2.60" width="8.7" height="5.2" rx="0.7" fill="#1f78b4"/>
<rect transform="translate(0.00 443.45) rotate(0.00)" x="43.0" y="-2.10" width="35.6" height="4.2" rx="1.6" fill="#a6cee3"/>
<rect transform="translate(0.00 443.45) rotate(0.00)" x="92.6" y="-2.10" width="35.4" height="4.2" rx="1.6" fill="#a6cee3"/>
<rect transform="translate(0.00 443.45) rotate(0.00)" x="144.7" y="-2.10" width="33.8" height="4.2" rx="1.6" fill="#a6cee3"/>
<rect transform="translate(0.00 443.45) rotate(0.00)" x="185.0" y="-2.10" width="20.0" height="4.2" rx="1.6" fill="#a6cee3"/>
<rect transform="translate(0.00 443.45) rotate(0.00)" x="213.9" y="-2.10" width="31.5" height="4.2" rx="1.6" fill="#a6cee3"/>
<rect x="43.5" y="440.75" width="10.1" height="5.4" rx="1.1" fill="#e31a1c"/>
<rect x="68" y="440.75" width="10.2" height="5.4" rx="1.1" fill="#e31a1c"/>
<rect x="93" y="440.75" width="10.0" height="5.4" rx="1.1" fill="#e31a1c"/>
<rect x="117.6" y="440.75" width="10.0" height="5.4" rx="1.1" fill="#e31a1c"/>
<rect x="145.6" y="440.75" width="3.3" height="5.4" rx="1.1" fill="#e31a1c"/>
<rect x="166.2" y="440.75" width="11.8" height="5.4" rx="1.1" fill="#e31a1c"/>
<rect x="186.2" y="440.75" width="17.6" height="5.4" rx="1.1" fill="#e31a1c"/>
<rect x="218" y="440.75" width="7.7" height="5.4" rx="1.1" fill="#e31a1c"/>
<rect x="238.3" y="440.75" width="4.7" height="5.4" rx="1.1" fill="#e31a1c"/>
<g font-family="'Liberation Serif',serif" font-size="4.3" fill="#000" stroke="#000" stroke-width="0.08">
<text transform="translate(108.1 270.4) rotate(-30)" text-anchor="end" font-size="4.45">ZPV.contig75_001530</text>
<text transform="translate(89.5 302.9) rotate(-30)" text-anchor="end" font-size="4.45">ZPV7g_011260</text>
<text transform="translate(83.8 312.9) rotate(-30)" text-anchor="end" font-size="4.45">ZPV7g_005850</text>
<text transform="translate(61.6 351.9) rotate(-30)" text-anchor="end" font-size="4.45">ZPV4g_026560</text>
<text transform="translate(53.0 367.1) rotate(-30)" text-anchor="end" font-size="4.45">ZPV4g_001860</text>
<text transform="translate(34.1 400.1) rotate(-30)" text-anchor="end" font-size="4.45">ZPV7g_017170</text>
<text transform="translate(164.9 254.3) rotate(28)" font-size="4.6">LW088570</text>
<text transform="translate(175.6 271.6) rotate(28)" font-size="4.6">LW296410</text>
<text transform="translate(185.1 289.6) rotate(28)" font-size="4.6">LW059270</text>
<text transform="translate(192.8 303.6) rotate(28)" font-size="4.6">LW063880</text>
<text transform="translate(204.0 321.7) rotate(28)" font-size="4.6">LW096430</text>
<text transform="translate(213.6 336.0) rotate(28)" font-size="4.6">LW137030</text>
<text transform="translate(225.0 354.6) rotate(28)" font-size="4.6">LW138450</text>
<text transform="translate(235.4 371.8) rotate(28)" font-size="4.6">LW101460</text>
<text transform="translate(239.6 381.7) rotate(28)" font-size="4.6">LW101470</text>
<text transform="translate(248.6 396.4) rotate(28)" font-size="4.6">LW159900</text>
<text transform="translate(259.3 416.1) rotate(28)" font-size="4.6">LW188410</text>
<text transform="translate(49.9 449) rotate(-44)" text-anchor="end" font-size="4.55">CclKNOX1</text>
<text transform="translate(74.5 449) rotate(-44)" text-anchor="end" font-size="4.55">CclKNOX1</text>
<text transform="translate(99.4 449) rotate(-44)" text-anchor="end" font-size="4.55">CclKNOX1</text>
<text transform="translate(124.0 449) rotate(-44)" text-anchor="end" font-size="4.55">CclKNOX1</text>
<text transform="translate(148.7 449) rotate(-44)" text-anchor="end" font-size="4.55">CclKNOX1</text>
<text transform="translate(173.5 449) rotate(-44)" text-anchor="end" font-size="4.55">CclKNOX1</text>
<text transform="translate(196.4 449) rotate(-44)" text-anchor="end" font-size="4.55">CclKNOX1</text>
<text transform="translate(223.2 449) rotate(-44)" text-anchor="end" font-size="4.55">CclKNOX1</text>
<text transform="translate(242.1 449) rotate(-44)" text-anchor="end" font-size="4.55">CclKNOX1</text>
</g>
<g font-family="'Liberation Serif',serif" font-style="italic" fill="#222">
<text x="114.6" y="470.8" font-size="7.2">Citrus clementina</text>
<text transform="translate(21.3 370.5) rotate(-59.8)" font-size="7.1">Citrus grandis (L.) Osbeck.cv. 'Zipiyou'</text>
<text transform="translate(219.2 309.4) rotate(61)" font-size="7.3">Citrus linwuensis</text>
</g>
<text x="8" y="239.3" font-family="'Liberation Serif',serif" font-size="10.8" fill="#111">(c)</text>
<rect x="298.7" y="251.8" width="176.8" height="169.1" fill="#fff"/>
<path d="M328.1 251.8V420.9M370.7 251.8V420.9M413.3 251.8V420.9M455.9 251.8V420.9M298.7 399.1H475.5M298.7 353.6H475.5M298.7 308.1H475.5M298.7 262.6H475.5" stroke="#f3f3f3" stroke-width="0.4" fill="none"/>
<path d="M306.8 251.8V420.9M349.4 251.8V420.9M392.0 251.8V420.9M434.6 251.8V420.9M298.7 376.4H475.5M298.7 330.9H475.5M298.7 285.4H475.5" stroke="#e8e8e8" stroke-width="0.55" fill="none"/>
<rect x="298.7" y="251.8" width="176.8" height="169.1" fill="none" stroke="#2e2e2e" stroke-width="1"/>
<path d="M306.8 420.9v1.6M349.4 420.9v1.6M392.0 420.9v1.6M434.6 420.9v1.6M298.7 376.4h-1.6M298.7 330.9h-1.6M298.7 285.4h-1.6" stroke="#333" stroke-width="0.6" fill="none"/>
<g font-family="'Liberation Serif',serif" font-size="7.1" fill="#555">
<text x="306.8" y="430.2" text-anchor="middle">0</text>
<text x="349.4" y="430.2" text-anchor="middle">1</text>
<text x="392.0" y="430.2" text-anchor="middle">2</text>
<text x="434.6" y="430.2" text-anchor="middle">3</text>
<text x="296.1" y="378.6" text-anchor="end">0.25</text>
<text x="296.1" y="333.1" text-anchor="end">0.50</text>
<text x="296.1" y="287.6" text-anchor="end">0.75</text>
</g>
<circle cx="310.6" cy="259.7" r="3.0" fill="#00BFC4"/>
<circle cx="306.8" cy="374.1" r="1.9" fill="#00B4F0"/>
<circle cx="369.9" cy="373.1" r="2.1" fill="#d46cc8"/>
<circle cx="358" cy="391.4" r="1.6" fill="#00BA38"/>
<circle cx="361.5" cy="390.4" r="1.6" fill="#DE8C00"/>
<circle cx="363.3" cy="390.9" r="1.6" fill="#DE8C00"/>
<circle cx="366.6" cy="383.8" r="1.9" fill="#00C08B"/>
<circle cx="368.6" cy="383.8" r="1.7" fill="#d46cc8"/>
<circle cx="367.9" cy="386.6" r="1.7" fill="#B79F00"/>
<circle cx="369.1" cy="388.3" r="1.9" fill="#00BFC4"/>
<circle cx="367.2" cy="389" r="1.6" fill="#00C08B"/>
<circle cx="377.5" cy="385.3" r="1.7" fill="#DE8C00"/>
<circle cx="378.8" cy="386.8" r="1.7" fill="#d46cc8"/>
<circle cx="377.2" cy="387.2" r="1.5" fill="#C77CFF"/>
<circle cx="382.4" cy="386.1" r="1.7" fill="#00BFC4"/>
<circle cx="364.6" cy="396" r="1.5" fill="#00C08B"/>
<circle cx="366" cy="396.5" r="1.5" fill="#FF64B0"/>
<circle cx="366" cy="398.8" r="1.5" fill="#FF64B0"/>
<circle cx="367.6" cy="398.8" r="1.5" fill="#00BFC4"/>
<circle cx="364.8" cy="398.6" r="1.4" fill="#00C08B"/>
<circle cx="374.2" cy="398.8" r="1.3" fill="#7a80e6"/>
<circle cx="409.5" cy="374.9" r="2.1" fill="#00C08B"/>
<circle cx="410.4" cy="377.5" r="1.9" fill="#DE8C00"/>
<circle cx="416.6" cy="400.5" r="1.4" fill="#F8766D"/>
<circle cx="429.5" cy="397.3" r="1.5" fill="#DE8C00"/>
<circle cx="438.2" cy="397.5" r="1.4" fill="#d46cc8"/>
<circle cx="440.1" cy="398.1" r="1.4" fill="#00B4F0"/>
<circle cx="441.7" cy="398.4" r="1.4" fill="#00BFC4"/>
<circle cx="440.9" cy="402.2" r="1.3" fill="#F8766D"/>
<circle cx="444.5" cy="398.9" r="1.5" fill="#DE8C00"/>
<circle cx="445.3" cy="400.3" r="1.4" fill="#00BA38"/>
<circle cx="447.5" cy="401.6" r="1.3" fill="#619CFF"/>
<circle cx="458.1" cy="405.7" r="1.2" fill="#619CFF"/>
<circle cx="463.8" cy="408.7" r="1.1" fill="#7CAE00"/>
<circle cx="467.6" cy="413.6" r="0.9" fill="#B79F00"/>
<g font-family="'Liberation Serif',serif" font-weight="bold" fill="#111">
<text x="393.3" y="439.8" font-size="8.3" text-anchor="middle">KS</text>
<text transform="translate(280.4 330.8) rotate(-90)" font-size="8.3" text-anchor="middle">Ka/Ks</text>
<text x="482.6" y="269.6" font-size="7.3">Group</text>
<text x="482.8" y="375.6" font-size="7.3">Ka/Ks</text>
</g>
<g font-family="'Liberation Serif',serif" font-size="7.2" fill="#111">
<circle cx="486.2" cy="275.6" r="1.1" fill="#F8766D"/>
<text x="492.2" y="278.0">C.australasica</text>
<circle cx="486.2" cy="283.1" r="1.1" fill="#DE8C00"/>
<text x="492.2" y="285.5">C.grandis</text>
<circle cx="486.2" cy="290.5" r="1.1" fill="#B79F00"/>
<text x="492.2" y="292.9">C.ichangensis</text>
<circle cx="486.2" cy="298.0" r="1.1" fill="#7CAE00"/>
<text x="492.2" y="300.4">C.mangshanensis</text>
<circle cx="486.2" cy="305.4" r="1.1" fill="#00BA38"/>
<text x="492.2" y="307.8">C.media</text>
<circle cx="486.2" cy="312.9" r="1.1" fill="#00C08B"/>
<text x="492.2" y="315.3">C.reticulata</text>
<circle cx="486.2" cy="320.4" r="1.1" fill="#00BFC4"/>
<text x="492.2" y="322.8">C.sinensis</text>
<circle cx="486.2" cy="327.8" r="1.1" fill="#00B4F0"/>
<text x="492.2" y="330.2">F.hindsii</text>
<circle cx="486.2" cy="335.3" r="1.1" fill="#619CFF"/>
<text x="492.2" y="337.7">HKC</text>
<circle cx="486.2" cy="342.7" r="1.1" fill="#C77CFF"/>
<text x="492.2" y="345.1">JLX</text>
<circle cx="486.2" cy="350.2" r="1.1" fill="#d46cc8"/>
<text x="492.2" y="352.6">Mandarin</text>
<circle cx="486.2" cy="357.7" r="1.1" fill="#FF64B0"/>
<text x="492.2" y="360.1">P.trifoliata</text>
<circle cx="486.4" cy="381.9" r="1.55" fill="#000"/>
<text x="492.7" y="384.3">0.2</text>
<circle cx="486.4" cy="389.4" r="2.05" fill="#000"/>
<text x="492.7" y="391.8">0.4</text>
<circle cx="486.4" cy="396.9" r="2.55" fill="#000"/>
<text x="492.7" y="399.3">0.6</text>
<circle cx="486.4" cy="404.4" r="3.05" fill="#000"/>
<text x="492.7" y="406.8">0.8</text>
</g>
<text x="274.1" y="239.3" font-family="'Liberation Serif',serif" font-size="10.8" fill="#111">(d)</text>
</svg>
</body></html>
